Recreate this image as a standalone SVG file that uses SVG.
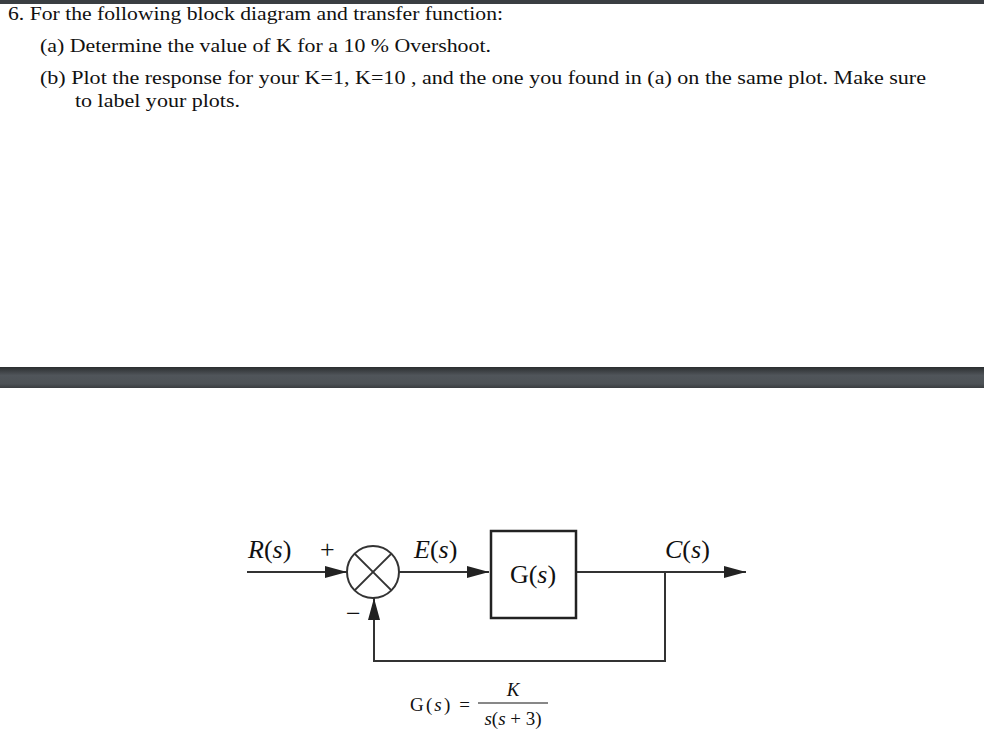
<svg xmlns="http://www.w3.org/2000/svg" width="984" height="742" viewBox="0 0 984 742">
<defs>
<linearGradient id="bar" x1="0" y1="0" x2="0" y2="1"><stop offset="0" stop-color="#2b2e30"/><stop offset="0.4" stop-color="#50555a"/><stop offset="0.8" stop-color="#4d5256"/><stop offset="1" stop-color="#3a3d40"/></linearGradient>
<marker id="ah" markerWidth="22" markerHeight="12" refX="22" refY="6" orient="auto" markerUnits="userSpaceOnUse"><path d="M0,0 L22,6 L0,12 Z" fill="#222"/></marker>
</defs>
<style>
.t{font-family:"Liberation Serif",serif;font-size:19px;fill:#111}
.m{font-family:"Liberation Serif",serif;font-style:italic;font-size:26px;fill:#111}
.u{font-family:"Liberation Serif",serif;font-size:26px;fill:#111}
.f{font-family:"Liberation Serif",serif;font-size:19px;fill:#111}
.ln{stroke:#333;stroke-width:2;fill:none}
</style>
<rect width="984" height="742" fill="#fff"/>
<rect x="0" y="0" width="984" height="4" fill="#3a3e42"/>
<rect x="0" y="367" width="984" height="21" fill="url(#bar)"/>
<text class="t" x="8" y="20" textLength="495" lengthAdjust="spacingAndGlyphs">6. For the following block diagram and transfer function:</text>
<text class="t" x="40" y="52" textLength="451" lengthAdjust="spacingAndGlyphs">(a) Determine the value of K for a 10 % Overshoot.</text>
<text class="t" x="40" y="84" textLength="886" lengthAdjust="spacingAndGlyphs">(b) Plot the response for your K=1, K=10 , and the one you found in (a) on the same plot. Make sure</text>
<text class="t" x="75" y="107" textLength="165" lengthAdjust="spacingAndGlyphs">to label your plots.</text>
<g id="connectors">
<line class="ln" x1="247" y1="572" x2="347" y2="572" marker-end="url(#ah)"/>
<line class="ln" x1="399" y1="572" x2="489" y2="572" marker-end="url(#ah)"/>
<line class="ln" x1="576" y1="572" x2="746" y2="572" marker-end="url(#ah)"/>
<polyline class="ln" points="665,572 665,661 374,661 374,598" marker-end="url(#ah)"/>
</g>
<g id="sum">
<circle cx="373" cy="572" r="26" fill="#fff" stroke="#333" stroke-width="2"/>
<line class="ln" x1="354.6" y1="553.6" x2="391.4" y2="590.4"/>
<line class="ln" x1="391.4" y1="553.6" x2="354.6" y2="590.4"/>
<text class="u" x="320" y="558">+</text>
<text class="u" x="346" y="622">−</text>
</g>
<g id="G">
<rect x="491" y="531" width="85" height="87" fill="#fff" stroke="#222" stroke-width="2.5"/>
<text x="533" y="583" text-anchor="middle"><tspan class="u">G(</tspan><tspan class="m">s</tspan><tspan class="u">)</tspan></text>
</g>
<g id="labels">
<text x="248" y="558"><tspan class="m">R</tspan><tspan class="u">(</tspan><tspan class="m">s</tspan><tspan class="u">)</tspan></text>
<text x="414" y="558"><tspan class="m">E</tspan><tspan class="u">(</tspan><tspan class="m">s</tspan><tspan class="u">)</tspan></text>
<text x="665" y="558"><tspan class="m">C</tspan><tspan class="u">(</tspan><tspan class="m">s</tspan><tspan class="u">)</tspan></text>
</g>
<g id="formula">
<text class="f" x="410" y="711" textLength="60" lengthAdjust="spacing">G(<tspan font-style="italic">s</tspan>) =</text>
<text class="f" x="513" y="696" text-anchor="middle" font-style="italic">K</text>
<line x1="478" y1="703" x2="548" y2="703" stroke="#111" stroke-width="1"/>
<text class="f" x="513" y="725" text-anchor="middle"><tspan font-style="italic">s</tspan>(<tspan font-style="italic">s</tspan> + 3)</text>
</g>
</svg>
